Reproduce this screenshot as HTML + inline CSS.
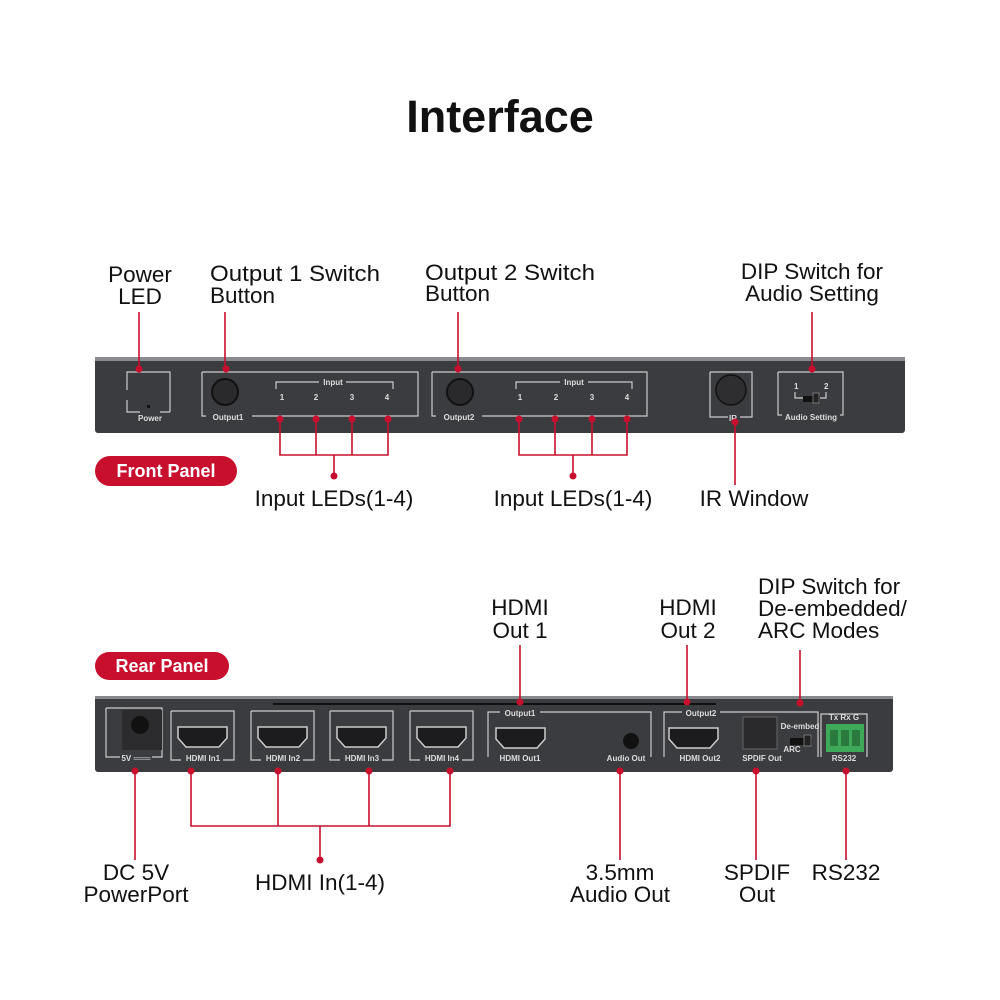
<!DOCTYPE html>
<html><head><meta charset="utf-8"><style>
body{margin:0;background:#fff}
svg{display:block}
.l{font-family:"Liberation Sans",sans-serif;font-size:22.5px;fill:#111}
.s{font-family:"Liberation Sans",sans-serif;font-size:8px;font-weight:bold;fill:#ddd}
.b{fill:none;stroke:#ccc;stroke-width:1.2}
.r{stroke:#c8102e;stroke-width:1.6;fill:none}
.d{fill:#c8102e}
</style></head><body>
<svg width="1000" height="1000" viewBox="0 0 1000 1000">
<defs>
<g id="h"><path class="b" d="M0 0 H63 V49 H52 M0 0 V49 H10"/>
<path d="M7 16 H56 V27 L48 36 H15 L7 27 Z" fill="#1c1c1e" stroke="#ccc" stroke-width="1.5"/></g>
</defs>
<rect width="1000" height="1000" fill="#fff"/>
<text x="500" y="132" text-anchor="middle" font-family="Liberation Sans,sans-serif" font-weight="bold" font-size="45" fill="#111">Interface</text>

<text class="l" text-anchor="middle" x="140" y="282">Power</text>
<text class="l" text-anchor="middle" x="140" y="304">LED</text>
<text class="l" x="210" y="281" textLength="170" lengthAdjust="spacingAndGlyphs">Output 1 Switch</text>
<text class="l" x="210" y="303">Button</text>
<text class="l" x="425" y="280" textLength="170" lengthAdjust="spacingAndGlyphs">Output 2 Switch</text>
<text class="l" x="425" y="301">Button</text>
<text class="l" text-anchor="middle" x="812" y="279">DIP Switch for</text>
<text class="l" text-anchor="middle" x="812" y="301">Audio Setting</text>

<rect x="95" y="357" width="810" height="76" rx="3" fill="#3b3c40"/>
<rect x="95" y="357" width="810" height="4" fill="#8a8b8f"/>
<path class="b" d="M127 390 V372 H170 V412 M127 400 V412 H140 M160 412 H170"/>
<text class="s" x="150" y="421" text-anchor="middle">Power</text>
<rect x="147" y="405" width="3" height="3" fill="#111"/>
<path class="b" d="M202 372 H418 V416 H252 M202 372 V416 H206"/>
<text class="s" x="228" y="420" text-anchor="middle">Output1</text>
<circle cx="225" cy="392" r="13" fill="#2a2a2c" stroke="#111" stroke-width="2"/>
<path class="b" d="M276 389 V382 H319 M346 382 H393 V389"/>
<text class="s" x="333" y="385" text-anchor="middle">Input</text>
<g class="s"><text x="282" y="400" text-anchor="middle">1</text><text x="316" y="400" text-anchor="middle">2</text><text x="352" y="400" text-anchor="middle">3</text><text x="387" y="400" text-anchor="middle">4</text>
<text x="520" y="400" text-anchor="middle">1</text><text x="556" y="400" text-anchor="middle">2</text><text x="592" y="400" text-anchor="middle">3</text><text x="627" y="400" text-anchor="middle">4</text></g>
<path class="b" d="M432 372 H647 V416 H482 M432 372 V416 H436"/>
<text class="s" x="459" y="420" text-anchor="middle">Output2</text>
<circle cx="460" cy="392" r="13" fill="#2a2a2c" stroke="#111" stroke-width="2"/>
<path class="b" d="M516 389 V382 H560 M588 382 H632 V389"/>
<text class="s" x="574" y="385" text-anchor="middle">Input</text>
<path class="b" d="M710 372 H752 V417 H740 M710 372 V417 H728"/>
<text class="s" x="733" y="421" text-anchor="middle">IR</text>
<circle cx="731" cy="390" r="15" fill="#2e2e31" stroke="#111" stroke-width="1.5"/>
<path class="b" d="M778 372 H843 V415 H840 M778 372 V415 H782"/>
<text class="s" x="811" y="420" text-anchor="middle">Audio Setting</text>
<text class="s" x="794" y="389">1</text><text class="s" x="824" y="389">2</text>
<path class="b" d="M795 392 V398 H804 M820 398 H826 V392"/>
<rect x="803" y="396" width="17" height="6" fill="#111"/><rect x="813" y="393" width="6" height="10" fill="#222" stroke="#888" stroke-width=".8"/>

<path class="r" d="M139 312 V369 M225 312 V369 M458 312 V369 M812 312 V369 M735 422 V485"/>
<circle class="d" cx="139" cy="369" r="3.5"/><circle class="d" cx="226" cy="369" r="3.5"/><circle class="d" cx="458" cy="369" r="3.5"/><circle class="d" cx="812" cy="369" r="3.5"/><circle class="d" cx="735" cy="422" r="3.5"/>
<path class="r" d="M280 419 V455 H388 V419 M316 419 V455 M352 419 V455 M334 455 V476"/>
<circle class="d" cx="280" cy="419" r="3.5"/><circle class="d" cx="316" cy="419" r="3.5"/><circle class="d" cx="352" cy="419" r="3.5"/><circle class="d" cx="388" cy="419" r="3.5"/><circle class="d" cx="334" cy="476" r="3.5"/>
<path class="r" d="M519 419 V455 H627 V419 M555 419 V455 M592 419 V455 M573 455 V476"/>
<circle class="d" cx="519" cy="419" r="3.5"/><circle class="d" cx="555" cy="419" r="3.5"/><circle class="d" cx="592" cy="419" r="3.5"/><circle class="d" cx="627" cy="419" r="3.5"/><circle class="d" cx="573" cy="476" r="3.5"/>
<rect x="95" y="456" width="142" height="30" rx="15" fill="#c8102e"/>
<text x="166" y="477" text-anchor="middle" font-family="Liberation Sans,sans-serif" font-weight="bold" font-size="18" fill="#fff">Front Panel</text>
<text class="l" text-anchor="middle" x="334" y="506">Input LEDs(1-4)</text>
<text class="l" text-anchor="middle" x="573" y="506">Input LEDs(1-4)</text>
<text class="l" text-anchor="middle" x="754" y="506">IR Window</text>

<text class="l" text-anchor="middle" x="520" y="615">HDMI</text>
<text class="l" text-anchor="middle" x="520" y="638">Out 1</text>
<text class="l" text-anchor="middle" x="688" y="615">HDMI</text>
<text class="l" text-anchor="middle" x="688" y="638">Out 2</text>
<text class="l" x="758" y="594">DIP Switch for</text>
<text class="l" x="758" y="616">De-embedded/</text>
<text class="l" x="758" y="638">ARC Modes</text>
<rect x="95" y="652" width="134" height="28" rx="14" fill="#c8102e"/>
<text x="162" y="672" text-anchor="middle" font-family="Liberation Sans,sans-serif" font-weight="bold" font-size="18" fill="#fff">Rear Panel</text>

<rect x="95" y="696" width="798" height="76" rx="3" fill="#3b3c40"/>
<rect x="95" y="696" width="798" height="3" fill="#88898d"/>
<path d="M273 704 H716" stroke="#111" stroke-width="2"/>
<path class="b" d="M106 708 H162 V757 H152 M106 708 V757 H120"/>
<text class="s" x="136" y="761" text-anchor="middle">5V ═══</text>
<rect x="122" y="710" width="40" height="40" fill="#2c2c2e"/><circle cx="140" cy="725" r="9" fill="#111"/>
<use href="#h" x="171" y="711"/>
<text class="s" x="203" y="761" text-anchor="middle">HDMI In1</text>
<use href="#h" x="251" y="711"/>
<text class="s" x="283" y="761" text-anchor="middle">HDMI In2</text>
<use href="#h" x="330" y="711"/>
<text class="s" x="362" y="761" text-anchor="middle">HDMI In3</text>
<use href="#h" x="410" y="711"/>
<text class="s" x="442" y="761" text-anchor="middle">HDMI In4</text>
<path class="b" d="M488 757 V712 H500 M540 712 H651 V757"/>
<text class="s" x="520" y="716" text-anchor="middle">Output1</text>
<text class="s" x="520" y="761" text-anchor="middle">HDMI Out1</text>
<text class="s" x="626" y="761" text-anchor="middle">Audio Out</text>
<path d="M496 728 H545 V739 L537 748 H504 L496 739 Z" fill="#1c1c1e" stroke="#ccc" stroke-width="1.5"/>
<circle cx="631" cy="741" r="8" fill="#111"/>
<path class="b" d="M664 757 V712 H682 M720 712 H818 V757"/>
<text class="s" x="701" y="716" text-anchor="middle">Output2</text>
<text class="s" x="700" y="761" text-anchor="middle">HDMI Out2</text>
<text class="s" x="762" y="761" text-anchor="middle">SPDIF Out</text>
<path d="M669 728 H718 V739 L710 748 H677 L669 739 Z" fill="#1c1c1e" stroke="#ccc" stroke-width="1.5"/>
<rect x="743" y="717" width="34" height="32" fill="#2a2a2c" stroke="#666"/>
<text class="s" x="800" y="729" text-anchor="middle" font-size="7">De-embed</text>
<text class="s" x="792" y="752" text-anchor="middle" font-size="7">ARC</text>
<rect x="790" y="738" width="22" height="7" fill="#111"/><rect x="804" y="735" width="7" height="11" fill="#222" stroke="#888" stroke-width=".8"/>
<path class="b" d="M821 757 V714 H867 V757"/>
<text class="s" x="844" y="720" text-anchor="middle" font-size="7">Tx Rx G</text>
<rect x="826" y="724" width="38" height="28" fill="#3fa95a"/>
<rect x="830" y="730" width="8" height="16" fill="#2a7a3e"/><rect x="841" y="730" width="8" height="16" fill="#2a7a3e"/><rect x="852" y="730" width="8" height="16" fill="#2a7a3e"/>
<text class="s" x="844" y="761" text-anchor="middle">RS232</text>

<path class="r" d="M520 645 V702 M687 645 V702 M800 650 V703 M135 771 V860 M620 771 V860 M756 771 V860 M846 771 V860"/>
<circle class="d" cx="520" cy="702" r="3.5"/><circle class="d" cx="687" cy="702" r="3.5"/><circle class="d" cx="800" cy="703" r="3.5"/>
<circle class="d" cx="135" cy="771" r="3.5"/><circle class="d" cx="620" cy="771" r="3.5"/><circle class="d" cx="756" cy="771" r="3.5"/><circle class="d" cx="846" cy="771" r="3.5"/>
<path class="r" d="M191 771 V826 H450 V771 M278 771 V826 M369 771 V826 M320 826 V860"/>
<circle class="d" cx="191" cy="771" r="3.5"/><circle class="d" cx="278" cy="771" r="3.5"/><circle class="d" cx="369" cy="771" r="3.5"/><circle class="d" cx="450" cy="771" r="3.5"/><circle class="d" cx="320" cy="860" r="3.5"/>
<text class="l" text-anchor="middle" x="136" y="880">DC 5V</text>
<text class="l" text-anchor="middle" x="136" y="902">PowerPort</text>
<text class="l" text-anchor="middle" x="320" y="890">HDMI In(1-4)</text>
<text class="l" text-anchor="middle" x="620" y="880">3.5mm</text>
<text class="l" text-anchor="middle" x="620" y="902">Audio Out</text>
<text class="l" text-anchor="middle" x="757" y="880">SPDIF</text>
<text class="l" text-anchor="middle" x="757" y="902">Out</text>
<text class="l" text-anchor="middle" x="846" y="880">RS232</text>
</svg>
</body></html>
